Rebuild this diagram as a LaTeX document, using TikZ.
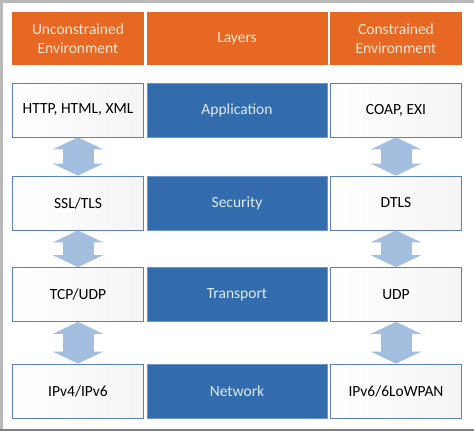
\documentclass[tikz,border=0pt]{standalone}
\usepackage{fontspec}
\setmainfont{Carlito}
\usetikzlibrary{arrows.meta}
\definecolor{org}{RGB}{230,104,34}
\definecolor{orgtxt}{RGB}{252,232,214}
\definecolor{lyr}{RGB}{50,108,172}
\definecolor{lyrline}{RGB}{110,150,205}
\definecolor{lyrtxt}{RGB}{222,234,247}
\definecolor{boxline}{RGB}{90,130,185}
\definecolor{arr}{RGB}{164,190,224}
\definecolor{frm}{RGB}{185,185,185}
\begin{document}
\begin{tikzpicture}[x=1pt,y=-1pt,
  hdr/.style={fill=org, draw=none, minimum height=53pt, inner sep=0pt, align=center,
    text=orgtxt, font=\fontsize{15.5}{19}\selectfont},
  layer/.style={fill=lyr, draw=lyrline, line width=0.8pt, minimum width=180pt, minimum height=54pt,
    inner sep=0pt, text=lyrtxt, font=\fontsize{15.5}{19}\selectfont},
  proto/.style={left color=white, right color=blue!4!gray!8, draw=boxline, line width=0.8pt,
    minimum width=131pt, minimum height=54pt, inner sep=0pt, text=black,
    font=\fontsize{15.5}{19}\selectfont},
  dblarrow/.style={arr, line width=31pt,
    {Triangle[width=50pt 0, length=12pt 0]}-{Triangle[width=50pt 0, length=12pt 0]}}
]
\useasboundingbox (0,0) rectangle (474,431);
\fill[white] (0,0) rectangle (474,431);
\fill[frm] (0,0) rectangle (474,2.5);
\fill[frm] (0,0) rectangle (2.5,431);
\fill[gray] (0,428.5) rectangle (474,431);
% headers
\node[hdr, minimum width=132pt] (h1) at (78,38.5) {Unconstrained\\Environment};
\node[hdr, minimum width=181pt] (h2) at (237,38.5) {Layers};
\node[hdr, minimum width=132pt] (h3) at (396,38.5) {Constrained\\Environment};
% rows
\node[proto] (l1) at (78,110) {HTTP, HTML, XML};
\node[layer] (m1) at (237,110) {Application};
\node[proto] (r1) at (396,110) {COAP, EXI};
\node[proto] (l2) at (78,203) {SSL/TLS};
\node[layer] (m2) at (237,203) {Security};
\node[proto] (r2) at (396,203) {DTLS};
\node[proto] (l3) at (78,294.5) {TCP/UDP};
\node[layer] (m3) at (237,294.5) {Transport};
\node[proto] (r3) at (396,294.5) {UDP};
\node[proto] (l4) at (78,391) {IPv4/IPv6};
\node[layer] (m4) at (237,391) {Network};
\node[proto] (r4) at (396,391) {IPv6/6LoWPAN};
% arrows
\draw[dblarrow] (l1.south) -- (l2.north);
\draw[dblarrow] (l2.south) -- (l3.north);
\draw[dblarrow] (l3.south) -- (l4.north);
\draw[dblarrow] (r1.south) -- (r2.north);
\draw[dblarrow] (r2.south) -- (r3.north);
\draw[dblarrow] (r3.south) -- (r4.north);
\end{tikzpicture}
\end{document}
